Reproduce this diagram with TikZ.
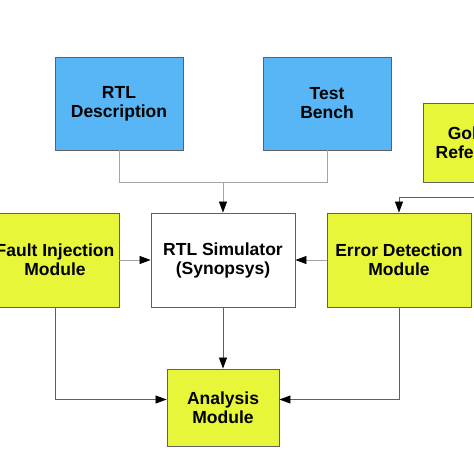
\documentclass[tikz,border=0pt]{standalone}
\usepackage{fontspec}
\setmainfont{Liberation Sans}
\usetikzlibrary{arrows.meta,calc}

\definecolor{boxblue}{RGB}{88,182,246}
\definecolor{boxyellow}{RGB}{232,246,58}
\definecolor{edgegray}{RGB}{95,95,95}
\definecolor{wiregray}{RGB}{165,165,165}

\begin{document}
\begin{tikzpicture}[
  x=1pt, y=-1pt,
  >={Triangle[width=8pt,length=11pt,color=black]},
  block/.style={draw=edgegray,line width=0.9pt,align=center,inner sep=0pt,
    font=\fontsize{17.5}{19}\selectfont\bfseries},
  input/.style={block,fill=boxblue,minimum width=128pt,minimum height=93pt},
  module/.style={block,fill=boxyellow},
  wire/.style={draw=wiregray,line width=0.8pt},
  feed/.style={draw=edgegray,line width=0.8pt}
]

\useasboundingbox (0,0) rectangle (474,474);
\clip (0,0) rectangle (474,474);

% ------------------------------------------------------------------
% Inputs
% ------------------------------------------------------------------
\node[input] (desc) at (119,103.5) {RTL\\Description};
\node[input] (bench) at (327,103.5) {Test\\Bench};
\node[module,minimum width=110pt,minimum height=79pt] (golden) at (478,142.5)
  {Golden\\Reference};

% ------------------------------------------------------------------
% Simulation row
% ------------------------------------------------------------------
\node[module,minimum width=128pt,minimum height=94pt] (inject) at (55,260)
  {Fault Injection\\Module};
\node[block,fill=white,minimum width=144pt,minimum height=94pt] (sim) at (223,260)
  {RTL Simulator\\(Synopsys)};
\node[module,minimum width=144pt,minimum height=94pt] (detect) at (399,260)
  {Error Detection\\Module};

\node[module,minimum width=112pt,minimum height=77pt] (analysis) at (223,407.5)
  {Analysis\\Module};

% ------------------------------------------------------------------
% Connectors
% ------------------------------------------------------------------
\coordinate (merge) at (223,182);
\draw[wire] (desc.south) |- (merge);
\draw[wire] (bench.south) |- (merge);
\draw[wire,->] (merge) -- (sim.north);

\draw[feed,->] (golden.south) -- ++(0,15) -| (detect.north);

\draw[wire,->] (inject.east) -- (sim.west);
\draw[wire,->] (detect.west) -- (sim.east);
\draw[feed,->] (sim.south) -- (analysis.north);

% Results enter the analysis block slightly above its middle.
\coordinate (ain) at ($(analysis.west)+(0,-8)$);
\coordinate (aout) at ($(analysis.east)+(0,-8)$);
\draw[feed,->] (inject.south) |- (ain);
\draw[feed,->] (detect.south) |- (aout);

\end{tikzpicture}
\end{document}
